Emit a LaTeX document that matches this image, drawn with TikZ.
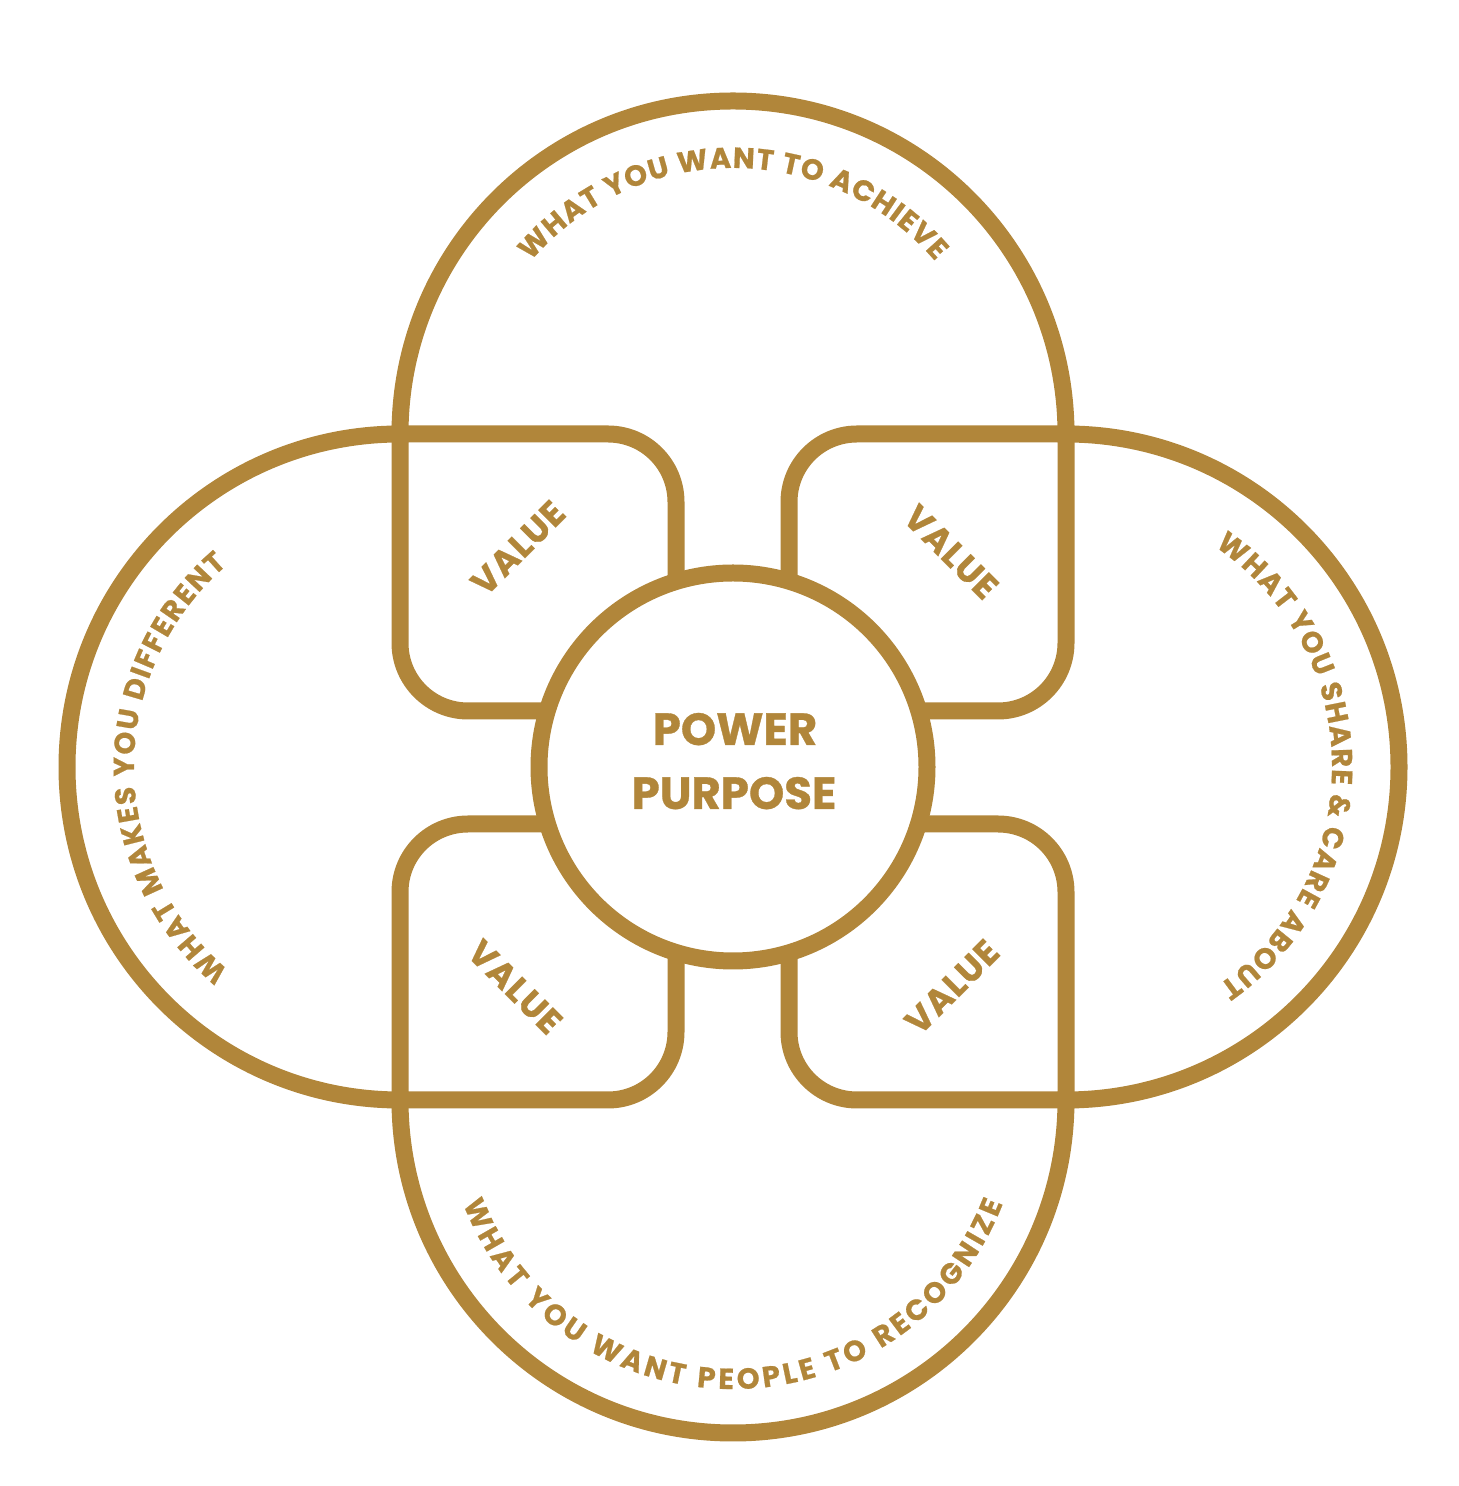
\documentclass[tikz,border=0pt]{standalone}
\usepackage{fontspec}
\setmainfont{Poppins}[BoldFeatures={FakeBold=0.7}]
\usetikzlibrary{decorations.text}
\definecolor{gold}{RGB}{177,134,58}
\newcommand\arcfont{\fontsize{29}{29}\selectfont\bfseries}
\begin{document}
\begin{tikzpicture}[x=1pt,y=1pt]
\tikzset{
  ring/.style={draw=gold, line width=17pt, line join=miter},
  curved/.style={decorate, decoration={text along path, text align=fit to path,
     text color=gold, text={|\arcfont|#1}}},
  valuetxt/.style={text=gold, font=\fontsize{35}{35}\selectfont\bfseries\addfontfeature{LetterSpace=3}, inner sep=0pt},
  centertxt/.style={text=gold, font=\fontsize{45}{45}\selectfont\bfseries, inner sep=0pt, anchor=base}
}
\useasboundingbox (0,0) rectangle (1459,1486);
% outer arches
\draw[ring] (400,1052) arc[start angle=180, end angle=0, radius=333];
\draw[ring] (1066,1052) arc[start angle=90, end angle=-90, radius=333];
\draw[ring] (1066,386) arc[start angle=0, end angle=-180, radius=333];
\draw[ring] (400,386) arc[start angle=270, end angle=90, radius=333];
% rounded squares (one sharp outer corner each)
\draw[ring] (400,1052) -- (608,1052) arc[start angle=90, end angle=0, radius=68]
  -- (676,843) arc[start angle=0, end angle=-90, radius=68]
  -- (468,775) arc[start angle=270, end angle=180, radius=68] -- cycle;
\draw[ring] (1066,1052) -- (1066,843) arc[start angle=0, end angle=-90, radius=68]
  -- (857,775) arc[start angle=270, end angle=180, radius=68]
  -- (789,984) arc[start angle=180, end angle=90, radius=68] -- cycle;
\draw[ring] (400,386) -- (400,594) arc[start angle=180, end angle=90, radius=68]
  -- (608,662) arc[start angle=90, end angle=0, radius=68]
  -- (676,454) arc[start angle=0, end angle=-90, radius=68] -- cycle;
\draw[ring] (1066,386) -- (857,386) arc[start angle=270, end angle=180, radius=68]
  -- (789,594) arc[start angle=180, end angle=90, radius=68]
  -- (998,662) arc[start angle=90, end angle=0, radius=68] -- cycle;
% centre circle
\node[circle, draw=gold, fill=white, line width=17pt, minimum size=388pt, inner sep=0pt] (purpose) at (733,719) {};
\node[centertxt] (power) at (735,741) {POWER};
\node[centertxt] (purp) at (734,677) {PURPOSE};
% values
\node[valuetxt, rotate=45] (v1) at (518,938) {VALUE};
\node[valuetxt, rotate=-45] (v2) at (951,934) {VALUE};
\node[valuetxt, rotate=-45] (v3) at (515,499) {VALUE};
\node[valuetxt, rotate=45] (v4) at (952,499) {VALUE};
% curved labels
\path[curved={WHAT YOU WANT TO ACHIEVE}] ([shift={(733,1052)}]139.5:266) arc[start angle=139.5, end angle=40.5, radius=266];
\path[curved={WHAT YOU SHARE {\&} CARE ABOUT}] ([shift={(1066,719)}]56:266) arc[start angle=56, end angle=-55, radius=266];
\path[curved={WHAT YOU WANT PEOPLE TO RECOGNIZE}] ([shift={(733,386)}]201:289) arc[start angle=201, end angle=339, radius=289];
\path[curved={WHAT MAKES YOU DIFFERENT}] ([shift={(400,719)}]230:266) arc[start angle=230, end angle=130.5, radius=266];
\end{tikzpicture}
\end{document}
